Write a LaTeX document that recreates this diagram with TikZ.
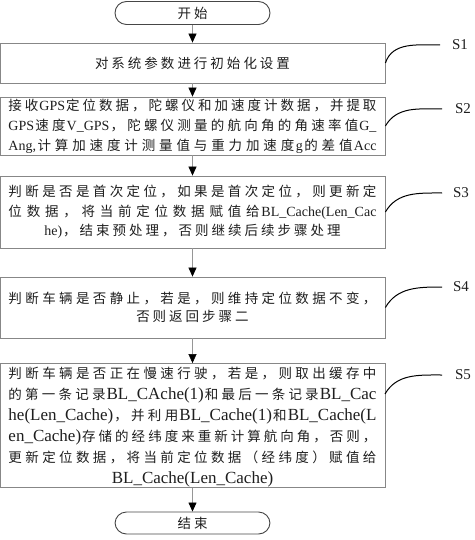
\documentclass[tikz,border=0pt]{standalone}
\usepackage{fontspec}
\setmainfont{Liberation Serif}
\newfontfamily\cjkfam{Noto Sans CJK SC}
\usetikzlibrary{arrows.meta}
\definecolor{boxgray}{RGB}{135,135,135}
\definecolor{termgray}{RGB}{70,70,70}
\definecolor{arrgray}{RGB}{150,150,150}
\definecolor{txt}{RGB}{30,30,30}
\newcommand\latsz{14}
\newcommand\latf{\rmfamily\fontsize{\latsz}{\latsz}\selectfont}
\newcommand\cjkf{\cjkfam\fontsize{13.5}{13.5}\selectfont}
\XeTeXinterchartokenstate=1
\newXeTeXintercharclass\CJKc
\newcount\cc
\cc="3000 \loop\XeTeXcharclass\cc=\CJKc \advance\cc by 1 \ifnum\cc<"3040 \repeat
\cc="4E00 \loop\XeTeXcharclass\cc=\CJKc \advance\cc by 1 \ifnum\cc<"A000 \repeat
\cc="FF00 \loop\XeTeXcharclass\cc=\CJKc \advance\cc by 1 \ifnum\cc<"FFF0 \repeat
\XeTeXinterchartoks 0 \CJKc={\hskip 1pt plus 2pt minus 1pt\cjkf}
\XeTeXinterchartoks 4095 \CJKc={\cjkf}
\XeTeXinterchartoks \CJKc 0={\hskip 1pt plus 2pt minus 1pt\latf}
\XeTeXinterchartoks \CJKc \CJKc={\hskip 3pt plus 4pt minus 2pt}
\newdimen\lw \lw=368pt
\newcommand\fl[1]{\hbox to \lw{#1}}
\newcommand\cl[1]{\hbox to \lw{\hfil#1\hfil}}
\newcommand\lines[2]{\vbox{\baselineskip=#1\relax #2}}
\begin{document}
\begin{tikzpicture}[x=1pt,y=-1pt,
  box/.style={draw=boxgray, line width=0.8pt, minimum width=385pt, inner sep=0pt, text=txt,
    font=\fontsize{14}{14}\selectfont},
  term/.style={draw=termgray, line width=0.9pt, rounded corners=11.5pt, minimum width=155pt,
    minimum height=23pt, inner sep=0pt, text=txt, font=\fontsize{14}{14}\selectfont},
  arr/.style={draw=arrgray, line width=0.6pt, -{Triangle[width=8pt,length=9pt,color=black]}},
  lead/.style={draw=black, line width=1pt},
  slab/.style={font=\fontsize{15}{15}\selectfont, inner sep=0pt, text=txt}]
\useasboundingbox (0,0) rectangle (474,540);
\node[term] (start) at (192.5,13) {开始};
\node[box, minimum height=40pt] (s1) at (192.5,63) {对系统参数进行初始化设置};
\node[box, minimum height=58pt] (s2) at (192.5,126) {\lines{20pt}{%
  \fl{接收GPS定位数据，陀螺仪和加速度计数据，并提取}%
  \fl{GPS速度V\_GPS，陀螺仪测量的航向角的角速率值G\_}%
  \fl{Ang,计算加速度计测量值与重力加速度g的差值Acc}}};
\node[box, minimum height=72pt] (s3) at (192.5,212) {\lines{19.5pt}{%
  \fl{判断是否是首次定位，如果是首次定位，则更新定}%
  \fl{位数据，将当前定位数据赋值给BL\_Cache(Len\_Cac}%
  \cl{he)，结束预处理，否则继续后续步骤处理}}};
\node[box, minimum height=61pt] (s4) at (192.5,307.5) {\lines{18.5pt}{%
  \fl{判断车辆是否静止，若是，则维持定位数据不变，}%
  \cl{否则返回步骤二}}};
\node[box, minimum height=121pt, font=\fontsize{17}{17}\selectfont] (s5) at (192.5,425.5) {\renewcommand\latsz{17}\lines{21pt}{%
  \kern4pt
  \fl{判断车辆是否正在慢速行驶，若是，则取出缓存中}%
  \fl{的第一条记录BL\_CAche(1)和最后一条记录BL\_Cac}%
  \fl{he(Len\_Cache)，并利用BL\_Cache(1)和BL\_Cache(L}%
  \fl{en\_Cache)存储的经纬度来重新计算航向角，否则，}%
  \fl{更新定位数据，将当前定位数据（经纬度）赋值给}%
  \cl{BL\_Cache(Len\_Cache)}}};
\node[term, minimum height=22pt] (end) at (192.5,523) {结束};
\draw[arr] (start) -- (s1);
\draw[arr] (s1) -- (s2);
\draw[arr] (s2) -- (s3);
\draw[arr] (s3) -- (s4);
\draw[arr] (s4) -- (s5);
\draw[arr] (s5) -- (end);
\node[slab] (l1) at (460,45) {S1};
\node[slab] (l2) at (463,109) {S2};
\node[slab] (l3) at (461,193) {S3};
\node[slab] (l4) at (461,287) {S4};
\node[slab] (l5) at (463,375) {S5};
\coordinate (e1) at (440,45);
\coordinate (e2) at (442,109);
\coordinate (e3) at (442,193);
\coordinate (e4) at (442,287);
\coordinate (e5) at (442,375);
\coordinate (b5) at (385,394);
\draw[lead] (s1.east) to[out=72,in=180] (e1);
\draw[lead] (s2.east) to[out=60,in=180] (e2);
\draw[lead] (s3.east) to[out=60,in=180] (e3);
\draw[lead] (s4.east) to[out=60,in=180] (e4);
\draw[lead] (b5) to[out=60,in=180] (e5);
\end{tikzpicture}
\end{document}
